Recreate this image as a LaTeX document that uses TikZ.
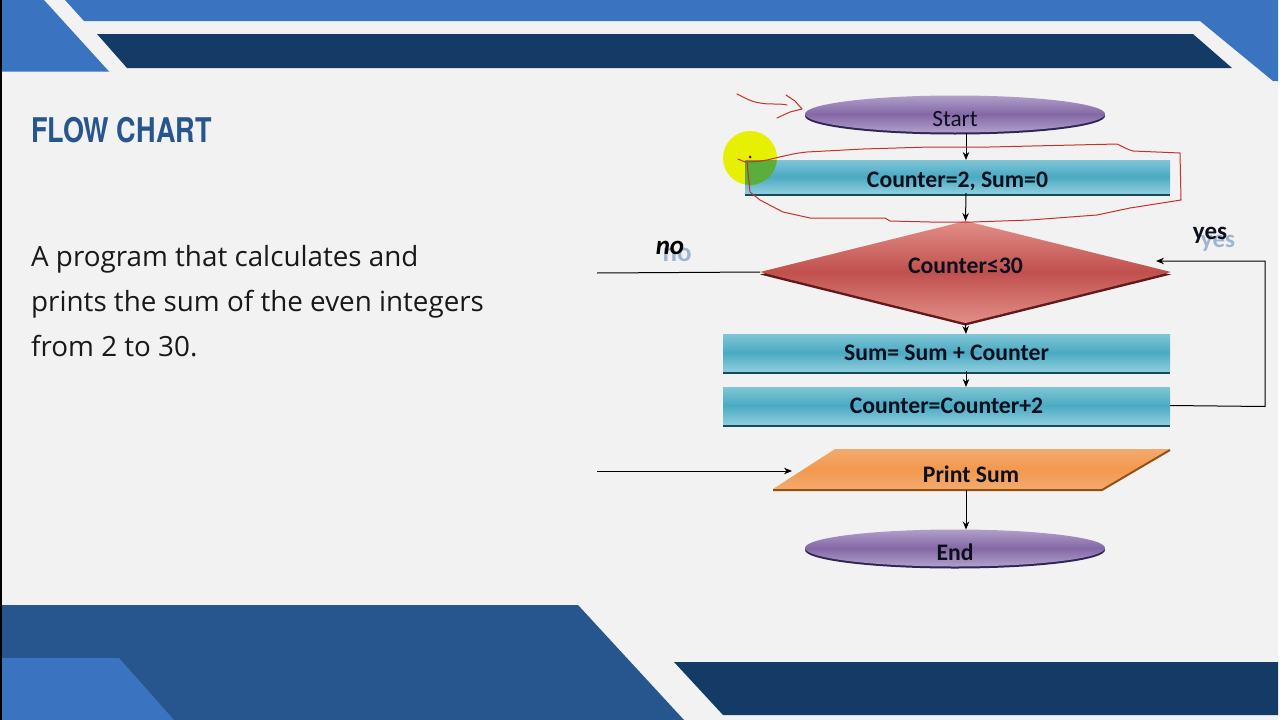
\documentclass[tikz,border=0pt]{standalone}
\usepackage{fontspec}
\setmainfont{Carlito}
\newfontfamily\bodyfont{Open Sans}
\newfontfamily\titlefont[FakeStretch=0.795]{TeX Gyre Heros}
\usetikzlibrary{shapes.geometric,shadows,arrows.meta}
\definecolor{pagebg}{HTML}{F2F2F2}
\definecolor{barblue}{HTML}{3A74C1}
\definecolor{barnavy}{HTML}{143A66}
\definecolor{barmid}{HTML}{27558E}
\definecolor{inkc}{HTML}{0B0F1E}
\definecolor{redpen}{HTML}{C8302C}
\definecolor{ghost}{HTML}{9DB4D2}
\definecolor{termedge}{HTML}{B0A0CA}
\definecolor{termmid}{HTML}{8468A6}
\definecolor{termshadow}{HTML}{2E2556}
\definecolor{proctop}{HTML}{80C5D6}
\definecolor{procbot}{HTML}{8CCDDC}
\definecolor{procmid}{HTML}{4AAAC2}
\definecolor{procshadow}{HTML}{144B5A}
\definecolor{decedge}{HTML}{E28E88}
\definecolor{decmid}{HTML}{C0504D}
\definecolor{decshadow}{HTML}{641919}
\definecolor{ioedge}{HTML}{F3AA6E}
\definecolor{iomid}{HTML}{F3984E}
\definecolor{ioshadow}{HTML}{96500F}
\definecolor{hlyellow}{HTML}{E6F000}
\definecolor{hlgreen}{HTML}{5CAE3C}
% #1: downward offset of the text centre from the node centre, in px
\newcommand{\dropy}[2]{\raisebox{\dimexpr-#1pt-7pt\relax}[0pt][0pt]{#2}}
\newcommand{\sz}[1]{\fontsize{#1}{#1}\selectfont}
\tikzset{
  base/.style={inner sep=0pt,outer sep=0pt,text=inkc,font=\sz{23.7}\bfseries},
  terminal/.style={base,ellipse,minimum width=300pt,minimum height=37pt,
    top color=termedge,bottom color=termedge,middle color=termmid,
    drop shadow={shadow xshift=0pt,shadow yshift=-2pt,fill=termshadow,opacity=1}},
  process/.style={base,rectangle,top color=proctop,bottom color=procbot,middle color=procmid,
    drop shadow={shadow xshift=0pt,shadow yshift=-3pt,fill=procshadow,opacity=1}},
  decision/.style={base,diamond,aspect=4.03,top color=decedge,bottom color=decedge,middle color=decmid,
    drop shadow={shadow xshift=0pt,shadow yshift=-2.5pt,fill=decshadow,opacity=1}},
  flow/.style={draw=black,line width=1pt,-{Stealth[length=8pt,width=6.5pt]}},
  plain/.style={draw=black,line width=1pt},
  pen/.style={draw=redpen,line width=1pt,line join=round,line cap=round},
  textonly/.style={base,inner sep=0pt},
}
\begin{document}
\begin{tikzpicture}[x=1pt,y=-1pt]
\useasboundingbox (0,0) rectangle (1280,720);
\fill[pagebg] (0,0) rectangle (1280,720);
\fill[black] (0,0) rectangle (2,720);
\fill[white] (1278,0) rectangle (1280,720);
% frame bands
\fill[barblue] (2,0) -- (44,0) -- (109,71.5) -- (2,71.5) -- cycle;
\fill[barblue] (65,0) -- (84,21) -- (1200,21) -- (1273,81) -- (1278,81) -- (1278,0) -- cycle;
\fill[barnavy] (97,34) -- (127,68) -- (1232,68) -- (1193,34) -- cycle;
\fill[barmid] (2,605) -- (578,605) -- (684,720) -- (2,720) -- cycle;
\fill[barblue] (2,658) -- (119,658) -- (174,720) -- (2,720) -- cycle;
\fill[barnavy] (674,662) -- (1278,662) -- (1278,715) -- (723,715) -- cycle;
% left texts
\node[inner sep=0pt,anchor=west,text=barmid,font=\titlefont\sz{34}\bfseries] (title) at (31,130) {FLOW CHART};
\node[inner sep=0pt,anchor=west,align=left,text=black!90,font=\bodyfont\fontsize{27.8}{45}\selectfont] (body) at (31,301)
  {A program that calculates and\\prints the sum of the even integers\\from 2 to 30.};
% highlight under the box
\fill[hlyellow] (750,158) circle (27);
% flow nodes
\coordinate (axis) at (966,0);
\node[terminal,font=\sz{23.3}] (start) at (955,114) {\dropy{5}{Start}};
\node[process,minimum width=425pt,minimum height=33pt] (init) at (957.5,176.5) {\dropy{3.5}{Counter=2, Sum=0}};
\node[decision,minimum width=411pt,minimum height=102pt] (test) at (965.5,272) {\dropy{-6}{Counter≤30}};
\node[process,minimum width=447pt,minimum height=37pt] (add) at (946.5,352.5) {\dropy{1}{Sum= Sum + Counter}};
\node[process,minimum width=447pt,minimum height=37pt] (inc) at (946.5,405.5) {\dropy{1}{Counter=Counter+2}};
\shade[top color=ioedge,bottom color=ioedge,middle color=iomid]
  (773,489) -- (835,449) -- (1170,449) -- (1102,489) -- cycle;
\draw[draw=ioshadow,line width=2pt] (773,490) -- (1102,490) -- (1170,450);
\node[textonly,minimum width=397pt,minimum height=41pt] (print) at (971,469.5) {\dropy{5.5}{Print Sum}};
\node[terminal] (end) at (955,548) {\dropy{5}{End}};
% green overlap
\begin{scope}
\clip (745,160) rectangle (1170,193);
\fill[hlgreen] (750,158) circle (27);
\end{scope}
% connectors
\coordinate (noin) at (597,273);
\coordinate (printin) at (597,471);
\coordinate (printtip) at (792,471);
\coordinate (loopa) at (1265,406.5);
\coordinate (loopb) at (1265,261);
\coordinate (looptip) at (1156,261);
\draw[flow] (axis |- start.south) -- (axis |- init.north);
\draw[flow] (axis |- init.south) -- (test.north);
\draw[flow] (test.south) -- (axis |- add.north);
\draw[flow] (axis |- add.south) -- (axis |- inc.north);
\draw[flow] (axis |- print.south) -- (axis |- end.north);
\draw[flow] (inc.east) -- (loopa) -- (loopb) -- (looptip);
\draw[plain] (noin) -- (test.west);
\draw[flow] (printin) -- (printtip);
% branch labels
\node[inner sep=0pt,text=ghost,font=\sz{27}\bfseries] (noghost) at (677,255) {no};
\node[inner sep=0pt,text=black,font=\sz{27}\bfseries\itshape] (nolabel) at (670,248) {no};
\node[inner sep=0pt,text=ghost,font=\sz{25}\bfseries] (yesghost) at (1218,243) {yes};
\node[inner sep=0pt,text=inkc,font=\sz{25}\bfseries] (yeslabel) at (1210,235) {yes};
% pen annotations
\draw[pen] (737,94) .. controls (745,98) and (752,102) .. (760,103) .. controls (770,105) and (778,103) .. (787,105);
\draw[pen] (786,95) -- (795,101) -- (802,109) -- (790,112) -- (777,118);
\draw[pen] (738,159) -- (745,162) .. controls (755,162) and (762,161) .. (767,160)
  .. controls (780,157) and (795,153) .. (807,152) -- (863,149) -- (930,147) -- (990,147) -- (1117,144)
  .. controls (1122,146) and (1128,150) .. (1133,151) -- (1180,153) -- (1181,200)
  -- (1130,208) -- (1097,215) -- (1030,220) -- (973,222) -- (930,222) -- (890,221) -- (885,218) -- (810,218)
  -- (783,212) -- (760,200) -- (750,192) -- (747,162);
\fill[red!50!black] (750,157) circle (1.5);
\end{tikzpicture}
\end{document}
